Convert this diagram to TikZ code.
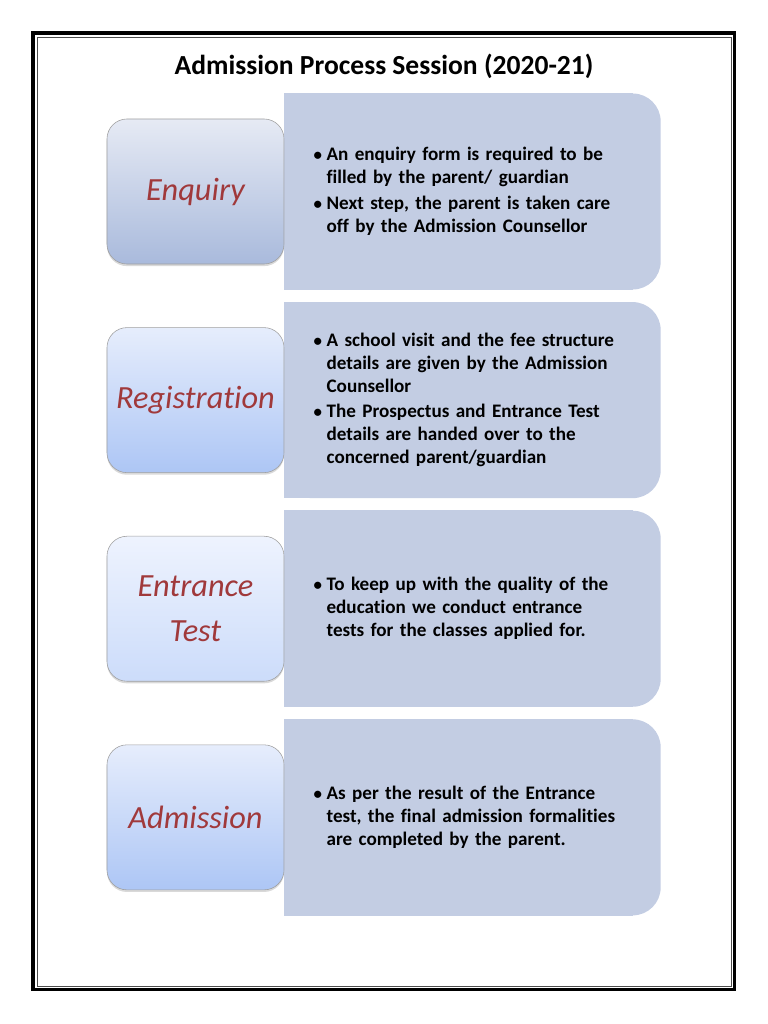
\documentclass[tikz,border=0pt]{standalone}
\usepackage{fontspec}
\setmainfont{Carlito}[Ligatures=NoCommon]
\usetikzlibrary{positioning, shadows, backgrounds}
\definecolor{PanelBlue}{HTML}{C3CDE3}
\definecolor{StepRed}{HTML}{A0393B}
\definecolor{StepTop}{HTML}{E6EDFC}
\definecolor{StepBottom}{HTML}{ADC6F5}
\definecolor{GreyTop}{HTML}{E6EAF4}
\definecolor{GreyBottom}{HTML}{A9BADC}
\definecolor{PaleTop}{HTML}{EEF3FE}
\definecolor{PaleBottom}{HTML}{CCDCFA}
\newcommand{\pitem}{\par\hangindent=0.325cm\hangafter=1\noindent\makebox[0.325cm][l]{\fontsize{12}{12}\selectfont\textbullet}}
\newcommand{\pend}{\par\nointerlineskip\vbox to 9pt{}}

\begin{document}
\begin{tikzpicture}[x=0.025cm, y=-0.025cm, node distance=1.575cm,
        steplabel/.style={rectangle, rounded corners=0.5cm, draw=gray!75, minimum width=4.425cm, minimum height=3.625cm, top color=StepTop, bottom color=StepBottom, text=StepRed, align=center, font=\fontsize{23}{32}\selectfont\itshape, drop shadow={shadow xshift=0pt, shadow yshift=-1.5pt, opacity=0.3}},
        panel/.style={rectangle, rounded corners=0.7cm, fill=PanelBlue, minimum height=4.9cm, text width=7.95cm, inner xsep=0.725cm, align=left, font=\fontsize{13.6}{16.3}\selectfont\bfseries, execute at begin node={\setlength{\parskip}{2pt}}}]

        \useasboundingbox (0,0) rectangle (768,1024);
        \draw[line width=2.2pt] (33,33) rectangle (734.5,989.5);
        \draw[line width=0.6pt, black!70] (37,37) rectangle (731,986);

        \node[font=\fontsize{19.6}{24}\selectfont\bfseries] (title) at (384,66) {Admission Process Session (2020-21)};

        \node[steplabel, top color=GreyTop, bottom color=GreyBottom] (enquiry) at (195.5,191.5) {Enquiry};
        \node[steplabel, below=of enquiry] (registration) {Registration};
        \node[steplabel, below=of registration, top color=PaleTop, bottom color=PaleBottom] (entrance) {Entrance\\Test};
        \node[steplabel, below=of entrance] (admission) {Admission};

        \node[panel, right=0cm of enquiry] (enquirytext) {\pitem An enquiry form is required to be\newline filled by the parent/ guardian
            \pitem Next step, the parent is taken care\newline off by the Admission Counsellor\pend};
        \node[panel, right=0cm of registration] (registrationtext) {\pitem A school visit and the fee structure\newline details are given by the Admission\newline Counsellor
            \pitem The Prospectus and Entrance Test\newline details are handed over to the\newline concerned parent/guardian\pend};
        \node[panel, right=0cm of entrance] (entrancetext) {\pitem To keep up with the quality of the\newline education we conduct entrance\newline tests for the classes applied for.\pend};
        \node[panel, right=0cm of admission] (admissiontext) {\pitem As per the result of the Entrance\newline test, the final admission formalities\newline are completed by the parent.\pend};

        % square off the left side of each panel
        \begin{scope}[on background layer]
            \foreach \p in {enquirytext, registrationtext, entrancetext, admissiontext}
                \fill[PanelBlue] (\p.north west) rectangle ([xshift=-0.7cm]\p.south east);
        \end{scope}
    \end{tikzpicture}
\end{document}
